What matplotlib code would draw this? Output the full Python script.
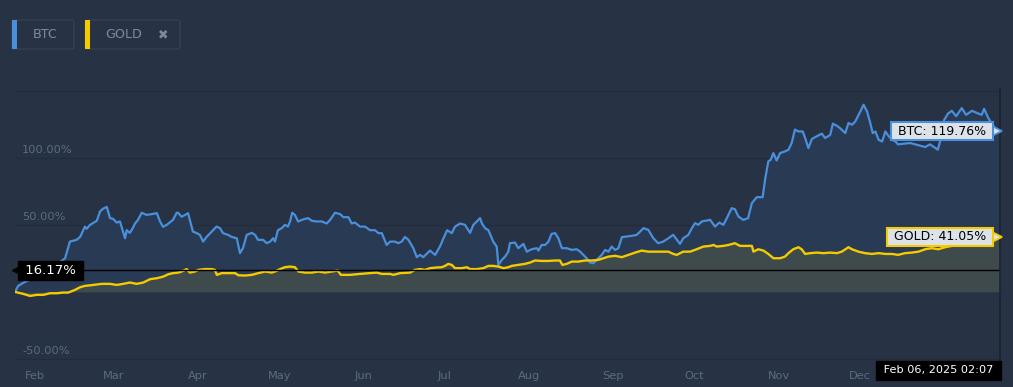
import matplotlib
matplotlib.use('Agg')
import matplotlib.pyplot as plt
import matplotlib.transforms as mtransforms
from matplotlib.patches import FancyBboxPatch, Rectangle
import pandas as pd
import numpy as np

# chart window: ~Feb 7 2024 -> Feb 6 2025; positions below are days on a 0..366 scale
START = pd.Timestamp('2024-02-07 14:00')
SPAN = 363.0
SCALE = 366.0

btc_days = [0, 1.2, 3.0, 9.3, 14.9, 17.8, 18.6, 20.4, 22.9, 24.2, 26.0, 26.6, 27.9, 30.4, 31.6, 32.7,
            34.1, 35.3, 36.4, 37.8, 39.0, 40.9, 41.5, 42.7, 43.8, 44.6, 45.7, 47.1, 48.9, 50.8, 52.7,
            53.9, 55.0, 56.4, 58.7, 60.1, 60.6, 61.9, 63.2, 64.3, 66.1, 67.5, 68.7, 69.9, 71.2, 73.1,
            74.9, 76.2, 77.3, 79.2, 80.5, 82.4, 83.6, 84.7, 86.1, 88.0, 89.2, 90.3, 92.2, 93.5, 94.8,
            95.9, 96.6, 97.7, 99.1, 100.3, 101.4, 102.2, 103.0, 104.0, 105.2, 107.0, 108.9, 110.3,
            112.1, 114.0, 115.8, 117.1, 118.9, 120.8, 122.0, 123.9, 125.1, 126.3, 128.2, 130.1, 131.9,
            133.8, 135.0, 136.3, 138.1, 139.4, 141.2, 142.4, 143.7, 144.9, 146.2, 148.0, 149.3, 150.5,
            151.7, 154.2, 156.1, 157.9, 159.2, 160.6, 162.3, 163.5, 165.4, 167.2, 169.1, 170.3, 171.6,
            172.8, 173.5, 174.7, 175.9, 177.7, 179.0, 179.6, 180.9, 182.1, 183.3, 183.9, 185.8, 187.0,
            188.9, 190.2, 192.0, 193.9, 194.5, 195.7, 197.0, 198.2, 199.4, 200.7, 201.9, 203.2, 205.0,
            206.9, 208.7, 210.0, 211.2, 212.4, 213.7, 214.9, 216.8, 218.0, 219.3, 220.5, 221.7, 223.0,
            224.2, 225.5, 227.3, 229.2, 231.0, 232.3, 233.5, 235.3, 237.2, 239.0, 240.9, 242.8, 244.0,
            244.6, 247.1, 248.3, 250.2, 251.5, 252.7, 253.9, 255.2, 257.0, 258.3, 260.1, 261.7, 263.2,
            264.5, 266.3, 267.5, 268.8, 270.6, 272.4, 273.8, 275.6, 277.8, 278.7, 279.9, 280.8, 281.8,
            283.0, 284.3, 286.1, 287.4, 288.6, 289.8, 291.1, 292.7, 293.6, 294.8, 296.1, 297.9, 299.8,
            301.0, 302.9, 303.9, 305.4, 306.6, 308.5, 309.7, 311.0, 312.2, 314.1, 315.3, 316.6, 317.8,
            318.7, 319.7, 320.9, 322.2, 323.4, 324.7, 325.9, 327.2, 328.1, 332.6, 338.2, 340.0, 342.9,
            343.7, 345.2, 346.7, 348.1, 349.7, 351.8, 353.4, 355.6, 357.9, 359.2, 360.1, 361.6, 363.1,
            364.2, 366.0]
btc_vals = [0, 4.5, 6.7, 13, 19, 23.9, 25, 37.5, 38.8, 41, 48.7, 47, 50, 53, 60, 62,
            63.4, 55, 54.5, 51.7, 52.5, 40, 46, 44, 47.7, 51, 53.7, 59, 57.4, 58, 58.7,
            52.5, 48.5, 50, 53.7, 59, 59, 56, 57.4, 58.7, 45, 43.8, 42.5, 37.5, 41, 45,
            48.7, 47.5, 43.8, 42.5, 41, 40, 28.9, 32.6, 42.5, 44, 42.5, 38.8, 38.8, 36.3, 37.5,
            40, 37.5, 46, 47.5, 50, 48.7, 52.5, 59, 57.4, 52.5, 54, 55, 53,
            52.5, 52.5, 51, 53.7, 59, 58, 55.7, 55.7, 51, 51.7, 48.7, 48.7, 46,
            46, 43.8, 43.8, 35, 37.5, 37.5, 36.3, 37.5, 41, 38.8, 32.6, 25.9, 27.6,
            25.9, 30.8, 27.6, 33.8, 40, 46, 43.8, 48.7, 51, 50, 44, 50, 52.5,
            55, 51, 47.5, 46, 37.5, 33.8, 20, 23.9, 26.3, 30, 36.3, 36.8, 32.6,
            35.8, 30, 31.8, 32.6, 30.8, 35, 35, 37.5, 43.3, 43.8, 40, 32.6, 32.6,
            31.3, 31.8, 30, 27.6, 25.1, 21.9, 21.4, 25.1, 27.6, 31.3, 30, 33.8, 31.3,
            32.6, 40.8, 41.3, 41.8, 42.5, 45, 47.5, 46.3, 40, 36.3, 37.5, 40, 41.8,
            42.5, 35.8, 40, 42.5, 47.5, 51.3, 50, 52.5, 53.2, 53.7, 48.7, 51.7, 50,
            55, 62.4, 61.7, 56.2, 53.7, 55, 66.2, 70.6, 70.6, 83.6, 97.2, 98.5, 103.5,
            98, 103.5, 104.7, 106, 111, 121, 119.6, 119.6, 114.7, 107.2, 114, 116, 118,
            114.7, 117, 125.4, 123.8, 122, 118.4, 125.9, 124.6, 127, 134.5, 139.5, 134.5, 125.9,
            118.4, 119.6, 113.4, 112.1, 119.6, 115.9, 113.4, 112.1, 110, 111, 108, 110, 106,
            112, 128, 133, 135, 131, 137, 132, 135, 133, 132, 136.5, 129.8, 125,
            122, 119.76]

gold_days = [0, 3.1, 5.6, 8.1, 10.5, 13.0, 15.5, 17.9, 19.8, 22.3, 24.2, 26.0, 29.1, 32.2, 35.3, 37.8,
             40.2, 42.7, 45.2, 47.7, 50.2, 52.7, 55.1, 57.0, 58.8, 60.7, 61.9, 63.8, 65.0, 66.9, 68.1,
             70.6, 73.1, 74.3, 75.0, 76.8, 79.3, 81.8, 83.0, 85.5, 88.0, 90.4, 92.9, 95.4, 96.6, 98.5,
             100.3, 102.2, 104.0, 105.3, 107.8, 110.3, 112.7, 115.2, 117.7, 119.9, 121.1, 124.5, 128.2,
             131.9, 134.4, 136.3, 139.4, 140.6, 143.1, 146.8, 148.6, 150.5, 152.4, 154.2, 156.7, 158.6,
             159.8, 161.0, 162.3, 163.5, 166.0, 167.9, 169.1, 171.6, 174.0, 175.9, 177.7, 179.6, 181.5,
             183.3, 184.6, 187.0, 189.5, 191.4, 193.2, 195.7, 198.2, 200.7, 202.5, 203.4, 205.0, 206.9,
             209.3, 211.8, 214.3, 216.8, 218.6, 220.5, 223.0, 225.5, 227.9, 230.4, 232.9, 235.3, 237.8,
             240.3, 242.8, 244.6, 245.9, 248.3, 250.8, 253.3, 255.8, 258.3, 259.5, 260.8, 263.2, 265.1,
             267.5, 269.4, 271.9, 273.8, 274.4, 276.2, 278.1, 279.9, 281.8, 284.3, 286.1, 287.4, 289.2,
             291.1, 292.3, 293.6, 295.5, 297.9, 300.4, 302.9, 305.4, 307.2, 309.7, 311.0, 313.4, 315.9,
             318.4, 320.9, 323.4, 325.9, 328.2, 330.7, 333.2, 335.7, 338.2, 340.6, 343.1, 345.6, 348.1,
             351.8, 356.7, 361.7, 364.2, 366.0]
gold_vals = [0, -1.5, -3, -2.2, -2.2, -1, -1, -0.5, -0.5, 1.5, 3.5, 4.5, 5.2, 6, 6, 5.2,
             6, 7, 6, 7, 9.5, 10.2, 11.4, 13.2, 14, 14.4, 15.2, 17, 14.4, 15.2, 16.4,
             17, 17, 16.4, 12.7, 14, 14, 14, 12.4, 12.2, 12.7, 14, 15.2, 14.4, 15.2, 17,
             18.4, 18.9, 18.4, 15.2, 14.4, 14.4, 15.2, 14.4, 15.2, 15.9, 12.7, 12.7, 13.4,
             14, 14.4, 13.4, 13.4, 12.7, 14, 14.4, 16.4, 17, 16.4, 17.7, 18.2, 18.4,
             19.4, 20.9, 20.1, 17.7, 17.7, 18.4, 17, 17, 17.7, 19.4, 19.4, 18.9, 17.7,
             18.4, 19.4, 20.1, 20.9, 21.9, 23.4, 23.1, 23.1, 23.4, 23.4, 20.1, 20.9, 22.6,
             22.6, 23.4, 23.4, 23.9, 25.1, 26.3, 26.9, 25.9, 27.6, 29.3, 30.8, 30, 30,
             30, 30, 28.3, 27.6, 30, 30, 31.8, 33.8, 34.3, 35, 33.8, 34.3, 35,
             36.3, 34.3, 34.3, 34.3, 30, 31.8, 30.8, 28.3, 25.1, 25.1, 26.3, 28.9, 31.8,
             33.3, 31.8, 28.3, 28.9, 29.3, 28.9, 29.3, 28.9, 30, 33.3, 31.8, 30, 28.9,
             28.3, 28.9, 28.3, 28.3, 27.6, 28.9, 29.3, 30, 31.8, 32.6, 31.8, 33.3, 34.3,
             35, 35.8, 37.5, 39.3, 41.05]

month_labels = ['Feb', 'Mar', 'Apr', 'May', 'Jun', 'Jul', 'Aug', 'Sep', 'Oct', 'Nov', 'Dec']
month_ticks = pd.date_range('2024-02-01', periods=11, freq='MS') + pd.Timedelta(days=14)
y_grid = [-50, 0, 50, 100, 150]
y_labels = [-50, 0, 50, 100]
cursor_value = 16.17
cursor_text = 'Feb 06, 2025 02:07'

BG = '#273345'
BLUE = '#4a8fdb'
YELLOW = '#f5cb00'
LABEL_C = '#5a6b82'
TAG_FC = '#dde2e8'


def to_dates(days):
    return START + pd.to_timedelta(np.asarray(days) * SPAN / SCALE, unit='D')


btc_x = to_dates(btc_days)
gold_x = to_dates(gold_days)

W, H = 1013, 387
fig = plt.figure(figsize=(W / 100, H / 100), dpi=100, facecolor=BG)
ax = fig.add_axes([15 / W, (H - 363) / H, 985 / W, 275 / H])
ax.set_facecolor(BG)

x0, x1 = START, START + pd.Timedelta(days=SPAN)
ax.set_xlim(x0, x1)
ax.set_ylim(-53, 152)

for g in y_grid:
    ax.axhline(g, color='#222c3c', lw=1, zorder=1)
for v in y_labels:
    ax.text(7 / 985, v + 2.2, f'{v:.2f}%', transform=ax.get_yaxis_transform(),
            color=LABEL_C, fontsize=8.2, ha='left', va='bottom', zorder=2)

ax.fill_between(btc_x, btc_vals, 0, color='#293a55', lw=0, zorder=2)
ax.fill_between(gold_x, gold_vals, 0, color='#3e4a4b', lw=0, zorder=3)
ax.plot(btc_x, btc_vals, color=BLUE, lw=1.6, zorder=5)
ax.plot(gold_x, gold_vals, color=YELLOW, lw=1.7, zorder=6)

# crosshair
ax.axhline(cursor_value, color='black', lw=1, zorder=7)
ax.axvline(x1, color='#1b222d', lw=1.2, zorder=7, clip_on=False)

ax.set_xticks(month_ticks)
ax.set_xticklabels(month_labels)
ax.tick_params(axis='x', length=0, pad=6, labelsize=8.2, labelcolor=LABEL_C)
ax.set_yticks([])
for s in ax.spines.values():
    s.set_visible(False)

# end-value tags with small arrow
arrow_tf = mtransforms.offset_copy(ax.transData, fig=fig, x=-3.5, y=0, units='dots')
for name, xs, vals, col in [('BTC', btc_x, btc_vals, BLUE), ('GOLD', gold_x, gold_vals, YELLOW)]:
    ax.plot([xs[-1]], [vals[-1]], marker='>', ms=7, mfc=TAG_FC, mec=col, mew=1.3,
            transform=arrow_tf, clip_on=False, zorder=9)
    ax.annotate(f' {name}: {vals[-1]:.2f}% ', xy=(xs[-1], vals[-1]), xytext=(-7, 0),
                textcoords='offset points', ha='right', va='center', fontsize=9, color='black',
                bbox=dict(boxstyle='square,pad=0.22', fc=TAG_FC, ec=col, lw=1.5), zorder=10,
                annotation_clip=False)

# crosshair value tag on the left
left_tf = mtransforms.offset_copy(ax.transData, fig=fig, x=1.5, y=0, units='dots')
ax.plot([x0], [cursor_value], marker='<', ms=7, color='black', transform=left_tf,
        clip_on=False, zorder=9)
ax.annotate(f' {cursor_value:.2f}% ', xy=(x0, cursor_value), xytext=(4.3, 0),
            textcoords='offset points', ha='left', va='center', fontsize=9.5, color='white',
            bbox=dict(boxstyle='square,pad=0.23', fc='black', ec='black'), zorder=10,
            annotation_clip=False)

fig.text(938.5 / W, 1 - 370.5 / H, f' {cursor_text} ', ha='center', va='center', fontsize=8.1,
         color='white', bbox=dict(boxstyle='square,pad=0.4', fc='black', ec='black'))


# legend chips
def px(x, y):
    return x / W, 1 - y / H


for (lx, lw_, name, col, close) in [(12, 62, 'BTC', BLUE, False), (85, 95, 'GOLD', YELLOW, True)]:
    bx, by = px(lx, 49)
    fig.patches.append(FancyBboxPatch((bx, by), lw_ / W, 29 / H, boxstyle='round,pad=0,rounding_size=0.004',
                                      transform=fig.transFigure, fc=BG, ec='#334052', lw=1))
    fig.patches.append(Rectangle((bx, by), 4.5 / W, 29 / H, transform=fig.transFigure,
                                 fc=col, ec='none'))
    tx, ty = px(lx + 20.5, 35)
    fig.text(tx, ty, name, color='#7f8a99', fontsize=9.2, ha='left', va='center')
    if close:
        cx, cy = px(lx + 78, 35)
        fig.text(cx, cy, '\u2716', color='#7f8a99', fontsize=9, ha='center', va='center')

fig.savefig('out.png', dpi=100, facecolor=BG)
